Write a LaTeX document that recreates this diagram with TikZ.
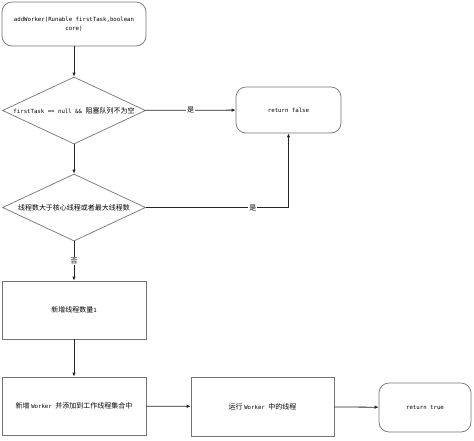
\documentclass[tikz,border=0pt]{standalone}
\usepackage{fontspec}
\usetikzlibrary{shapes.geometric,arrows.meta}
\newfontfamily\cjk{Noto Sans CJK SC}
\newfontfamily\lat{DejaVu Sans Mono}
\newcommand{\zh}[1]{{\cjk\fontsize{7}{9}\selectfont #1}}
\newcommand{\en}[1]{{\lat\fontsize{5.7}{9}\selectfont #1}}
\begin{document}
\begin{tikzpicture}[x=1pt,y=-1pt,
  box/.style={draw=black!55,line width=0.7pt,rectangle,inner sep=0pt,align=center},
  rbox/.style={box,rounded corners=10pt},
  dia/.style={draw=black!55,line width=0.7pt,diamond,inner sep=0pt,minimum width=143pt,minimum height=67pt},
  conn/.style={draw=black!85,line width=0.8pt,-{Latex[length=4pt,width=3.5pt]}},
  lbl/.style={fill=white,inner sep=1pt}]
\useasboundingbox (0,0) rectangle (474,440);
\node[rbox,minimum width=144pt,minimum height=44pt,font=\lat\fontsize{5.7}{9}\selectfont] (start) at (74,24) {addWorker(Runable firstTask,boolean\\core)};
\node[dia] (d1) at (74,110.5) {};
\node (d1t) at (d1.center) {\en{firstTask == null \&\& }\zh{阻塞队列不为空}};
\node[rbox,minimum width=105pt,minimum height=46pt] (rf) at (288.5,110) {\en{return false}};
\node[dia] (d2) at (74,207.5) {};
\node (d2t) at (d2.center) {\zh{线程数大于核心线程或者最大线程数}};
\node[box,minimum width=144pt,minimum height=58pt] (b1) at (74,310) {\zh{新增线程数量}\en{1}};
\node[box,minimum width=144pt,minimum height=58pt] (b2) at (74,406) {\zh{新增 }\en{Worker }\zh{并添加到工作线程集合中}};
\node[box,minimum width=143pt,minimum height=59pt] (b3) at (262.5,406.5) {\zh{运行 }\en{Worker }\zh{中的线程}};
\node[rbox,minimum width=92pt,minimum height=49pt] (rt) at (425,407.5) {\en{return true}};
\draw[conn] (start) -- (d1);
\draw[conn] (d1) -- node[lbl,pos=0.5]{\zh{是}} (rf);
\draw[conn] (d1) -- (d2);
\draw[conn] (d2.east) -- node[lbl,pos=0.75]{\zh{是}} (d2.east -| rf.south) -- (rf.south);
\draw[conn] (d2) -- node[lbl,pos=0.5]{\zh{否}} (b1);
\draw[conn] (b1) -- (b2);
\draw[conn] (b2) -- (b3);
\draw[conn] (b3) -- (rt);
\end{tikzpicture}
\end{document}
